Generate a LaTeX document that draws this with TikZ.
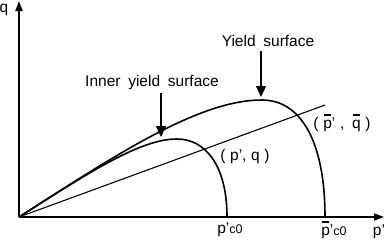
\documentclass[tikz,border=0pt]{standalone}
\usepackage{fontspec}
\setmainfont{Liberation Sans}
\usetikzlibrary{arrows.meta}
\newcommand\obar[1]{\leavevmode\ooalign{#1\cr\hidewidth\rule[0.8em]{0.48em}{0.09em}\hidewidth\cr}}
\newcommand\gap{\hspace{0.5em}}
\newcommand\sm[1]{{\fontsize{12.5}{14}\selectfont #1}}
\begin{document}
\begin{tikzpicture}[x=1pt,y=-1pt,
  axis/.style={line width=1.8pt,-{Triangle[width=7pt,length=10pt]}},
  curve/.style={line width=1.6pt},
  ptr/.style={line width=1.2pt,-{Triangle[width=10pt,length=11pt]}},
  lbl/.style={inner sep=0pt,font=\fontsize{15.5}{18}\selectfont}]
\useasboundingbox (0,0) rectangle (385,242);
\coordinate (O) at (19,217);
\coordinate (ytop) at (19,1);
\coordinate (xend) at (384,217);
\coordinate (Lend) at (325,105);
\coordinate (Pk) at (262,100);
\coordinate (Pc) at (325,217);
\coordinate (pk) at (177,139);
\coordinate (pc) at (227,217);
\coordinate (ytip) at (261,97);
\coordinate (itip) at (161,137);
% axes
\draw[axis] (O) -- (ytop);
\draw[axis] (O) -- (xend);
% stress ratio line
\draw[line width=1.1pt] (O) -- (Lend);
% outer yield surface
\draw[curve] (O) .. controls (120,152) and (200,100) .. (Pk)
  .. controls (300,100) and (325,140) .. (Pc);
% inner yield surface
\draw[curve] (O) .. controls (90,172) and (140,139) .. (pk)
  .. controls (205,139) and (227,165) .. (pc);
% labels
\node[lbl] (q) at (4,10) {q};
\node[lbl] (p) at (379,232) {p'};
\node[lbl] (ys) at (268,41) {Yield\gap surface};
\node[lbl] (iys) at (152,82) {Inner\gap yield\gap surface};
\node[lbl] (pq) at (245,156) {(\hspace{0.3em}p',\hspace{0.3em}q\hspace{0.3em})};
\node[lbl] (bpq) at (342,124) {(\hspace{0.3em}\obar{p}'\hspace{0.3em},\hspace{0.5em}\obar{q}\hspace{0.3em})};
\node[lbl] (pc0) at (230,230) {p'\sm{c0}};
\node[lbl] (bpc0) at (334,230) {\obar{p}'\sm{c0}};
% pointers
\draw[ptr] (ys.south -| ytip) ++(0,4) -- (ytip);
\draw[ptr] (iys.south -| itip) ++(0,4) -- (itip);
\end{tikzpicture}
\end{document}
